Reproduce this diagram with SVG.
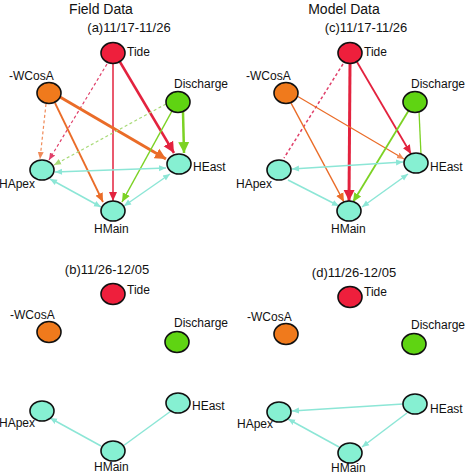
<svg xmlns="http://www.w3.org/2000/svg" width="474" height="474" viewBox="0 0 474 474">
<style>
text{font-family:"Liberation Sans",Arial,sans-serif;fill:#111;font-size:12px}
.title{font-size:14px;text-anchor:middle}
.sub{font-size:13px;text-anchor:middle}
.n{stroke:#111;stroke-width:1.6}
.tide{fill:#ee1f3c}
.wc{fill:#f07a1c}
.dis{fill:#5fd412}
.h{fill:#86f0d2}
line{fill:none}
.r{stroke:#e3223e}
.rd{stroke:#e0406a;stroke-dasharray:3 2.5}
.o{stroke:#ea6c28}
.od{stroke:#f08a58;stroke-dasharray:3 2.5}
.g{stroke:#7cd224}
.gd{stroke:#a8da78;stroke-dasharray:3 2.5}
.c{stroke:#8ce6d6;stroke-width:1.5}
</style>
<defs>
<marker id="aR" markerUnits="userSpaceOnUse" markerWidth="10" markerHeight="10" refX="9" refY="5" orient="auto"><path d="M0,1 L9,5 L0,9 Z" fill="#e3223e"/></marker>
<marker id="aRb" markerUnits="userSpaceOnUse" markerWidth="12" markerHeight="12" refX="11" refY="6" orient="auto"><path d="M0,0.5 L11,6 L0,11.5 Z" fill="#e3223e"/></marker>
<marker id="aRd" markerUnits="userSpaceOnUse" markerWidth="8" markerHeight="8" refX="7" refY="4" orient="auto"><path d="M0,1 L7,4 L0,7 Z" fill="#e0406a"/></marker>
<marker id="aO" markerUnits="userSpaceOnUse" markerWidth="10" markerHeight="10" refX="9" refY="5" orient="auto"><path d="M0,1 L9,5 L0,9 Z" fill="#ea6c28"/></marker>
<marker id="aOb" markerUnits="userSpaceOnUse" markerWidth="12" markerHeight="12" refX="11" refY="6" orient="auto"><path d="M0,0.5 L11,6 L0,11.5 Z" fill="#ea6c28"/></marker>
<marker id="aOd" markerUnits="userSpaceOnUse" markerWidth="8" markerHeight="8" refX="7" refY="4" orient="auto"><path d="M0,1 L7,4 L0,7 Z" fill="#f08a58"/></marker>
<marker id="aG" markerUnits="userSpaceOnUse" markerWidth="10" markerHeight="10" refX="9" refY="5" orient="auto"><path d="M0,1 L9,5 L0,9 Z" fill="#7cd224"/></marker>
<marker id="aGb" markerUnits="userSpaceOnUse" markerWidth="12" markerHeight="12" refX="11" refY="6" orient="auto"><path d="M0,0.5 L11,6 L0,11.5 Z" fill="#7cd224"/></marker>
<marker id="aGd" markerUnits="userSpaceOnUse" markerWidth="8" markerHeight="8" refX="7" refY="4" orient="auto"><path d="M0,1 L7,4 L0,7 Z" fill="#a8da78"/></marker>
<marker id="aC" markerUnits="userSpaceOnUse" markerWidth="8" markerHeight="8" refX="7" refY="4" orient="auto"><path d="M0,1 L7,4 L0,7 Z" fill="#8ce6d6"/></marker>
<marker id="aCs" markerUnits="userSpaceOnUse" markerWidth="8" markerHeight="8" refX="0" refY="4" orient="auto"><path d="M7,1 L0,4 L7,7 Z" fill="#8ce6d6"/></marker>
</defs>

<text class="title" x="101" y="14">Field Data</text>
<text class="title" x="344" y="14">Model Data</text>
<text class="sub" x="129" y="32">(a)11/17-11/26</text>
<text class="sub" x="366" y="32">(c)11/17-11/26</text>
<text class="sub" x="107" y="274">(b)11/26-12/05</text>
<text class="sub" x="354" y="277">(d)11/26-12/05</text>

<g id="connectors">
<!-- panel a -->
<line class="rd" x1="107" y1="64" x2="49" y2="160" stroke-width="1.2" marker-end="url(#aRd)"/>
<line class="r" x1="113" y1="64" x2="113" y2="201" stroke-width="1.5" marker-end="url(#aR)"/>
<line class="r" x1="120" y1="62" x2="174" y2="153" stroke-width="2.5" marker-end="url(#aRb)"/>
<line class="od" x1="46" y1="104" x2="40" y2="159" stroke-width="1.2" marker-end="url(#aOd)"/>
<line class="o" x1="55" y1="103" x2="103" y2="202" stroke-width="1.8" marker-end="url(#aO)"/>
<line class="o" x1="60" y1="97" x2="166" y2="159" stroke-width="3" marker-end="url(#aOb)"/>
<line class="gd" x1="166" y1="104" x2="54" y2="165" stroke-width="1.2" marker-end="url(#aGd)"/>
<line class="g" x1="172" y1="111" x2="122" y2="202" stroke-width="1.5" marker-end="url(#aG)"/>
<line class="g" x1="183" y1="112" x2="184" y2="153" stroke-width="2.5" marker-end="url(#aGb)"/>
<line class="c" x1="55" y1="172" x2="166" y2="168" marker-start="url(#aCs)" marker-end="url(#aC)"/>
<line class="c" x1="50" y1="179" x2="101" y2="207" marker-start="url(#aCs)" marker-end="url(#aC)"/>
<line class="c" x1="124" y1="206" x2="170" y2="174" marker-start="url(#aCs)" marker-end="url(#aC)"/>
<!-- panel c -->
<line class="rd" x1="343" y1="64" x2="284" y2="158" stroke-width="1.5"/>
<line class="r" x1="350" y1="64" x2="349" y2="201" stroke-width="3" marker-end="url(#aRb)"/>
<line class="r" x1="357" y1="62" x2="411" y2="154" stroke-width="1.8" marker-end="url(#aR)"/>
<line class="o" x1="297" y1="96" x2="404" y2="159" stroke-width="1.2" marker-end="url(#aOd)"/>
<line class="o" x1="291" y1="103" x2="344" y2="202" stroke-width="1.5" marker-end="url(#aO)"/>
<line class="g" x1="409" y1="110" x2="353" y2="202" stroke-width="1.8" marker-end="url(#aG)"/>
<line class="g" x1="419" y1="111" x2="421" y2="155" stroke-width="1.3"/>
<line class="c" x1="292" y1="169" x2="403" y2="162" marker-start="url(#aCs)" marker-end="url(#aC)"/>
<line class="c" x1="288" y1="180" x2="339" y2="206" marker-end="url(#aC)"/>
<line class="c" x1="362" y1="207" x2="408" y2="174" marker-start="url(#aCs)" marker-end="url(#aC)"/>
<!-- panel b -->
<line class="c" x1="101" y1="446" x2="50" y2="418" stroke-width="1.8" marker-end="url(#aC)"/>
<line class="c" x1="123" y1="446" x2="171" y2="411" stroke-width="1.8"/>
<!-- panel d -->
<line class="c" x1="403" y1="404" x2="292" y2="411" stroke-width="1.8" marker-end="url(#aC)"/>
<line class="c" x1="339" y1="447" x2="288" y2="419" stroke-width="1.8" marker-end="url(#aC)"/>
<line class="c" x1="407" y1="413" x2="362" y2="447" stroke-width="1.8" marker-end="url(#aC)"/>
</g>

<!-- panel a nodes -->
<g id="a-tide"><ellipse class="n tide" cx="113" cy="53" rx="12" ry="10.5"/><text x="127" y="56">Tide</text></g>
<g id="a-wcosa"><ellipse class="n wc" cx="49" cy="93" rx="12" ry="10.5"/><text x="9" y="80">-WCosA</text></g>
<g id="a-discharge"><ellipse class="n dis" cx="178" cy="102" rx="12" ry="10.5"/><text x="174" y="88">Discharge</text></g>
<g id="a-hapex"><ellipse class="n h" cx="42" cy="170" rx="12" ry="10"/><text x="-1" y="188">HApex</text></g>
<g id="a-heast"><ellipse class="n h" cx="179" cy="164" rx="12" ry="10"/><text x="193" y="171">HEast</text></g>
<g id="a-hmain"><ellipse class="n h" cx="113" cy="211" rx="12" ry="10"/><text x="94" y="233">HMain</text></g>

<!-- panel c nodes -->
<g id="c-tide"><ellipse class="n tide" cx="350" cy="53" rx="12" ry="10.5"/><text x="364" y="56">Tide</text></g>
<g id="c-wcosa"><ellipse class="n wc" cx="286" cy="93" rx="12" ry="10.5"/><text x="246" y="80">-WCosA</text></g>
<g id="c-discharge"><ellipse class="n dis" cx="415" cy="102" rx="12" ry="10.5"/><text x="411" y="88">Discharge</text></g>
<g id="c-hapex"><ellipse class="n h" cx="279" cy="170" rx="12" ry="10"/><text x="236" y="188">HApex</text></g>
<g id="c-heast"><ellipse class="n h" cx="416" cy="163" rx="12" ry="10"/><text x="430" y="171">HEast</text></g>
<g id="c-hmain"><ellipse class="n h" cx="349" cy="211" rx="12" ry="10"/><text x="331" y="233">HMain</text></g>

<!-- panel b nodes -->
<g id="b-tide"><ellipse class="n tide" cx="113" cy="294" rx="12" ry="10.5"/><text x="127" y="294">Tide</text></g>
<g id="b-wcosa"><ellipse class="n wc" cx="49" cy="332" rx="12" ry="10.5"/><text x="10" y="319">-WCosA</text></g>
<g id="b-discharge"><ellipse class="n dis" cx="177" cy="342" rx="12" ry="10.5"/><text x="174" y="327">Discharge</text></g>
<g id="b-hapex"><ellipse class="n h" cx="42" cy="411" rx="12" ry="10"/><text x="-1" y="427">HApex</text></g>
<g id="b-heast"><ellipse class="n h" cx="178" cy="403" rx="12" ry="10"/><text x="192" y="410">HEast</text></g>
<g id="b-hmain"><ellipse class="n h" cx="113" cy="451" rx="12" ry="10"/><text x="94" y="471">HMain</text></g>

<!-- panel d nodes -->
<g id="d-tide"><ellipse class="n tide" cx="350" cy="297" rx="12" ry="10.5"/><text x="364" y="296">Tide</text></g>
<g id="d-wcosa"><ellipse class="n wc" cx="286" cy="334" rx="12" ry="10.5"/><text x="247" y="321">-WCosA</text></g>
<g id="d-discharge"><ellipse class="n dis" cx="414" cy="344" rx="12" ry="10.5"/><text x="411" y="329">Discharge</text></g>
<g id="d-hapex"><ellipse class="n h" cx="279" cy="412" rx="12" ry="10"/><text x="237" y="428">HApex</text></g>
<g id="d-heast"><ellipse class="n h" cx="415" cy="404" rx="12" ry="10"/><text x="430" y="413">HEast</text></g>
<g id="d-hmain"><ellipse class="n h" cx="350" cy="453" rx="12" ry="10"/><text x="331" y="472">HMain</text></g>
</svg>
